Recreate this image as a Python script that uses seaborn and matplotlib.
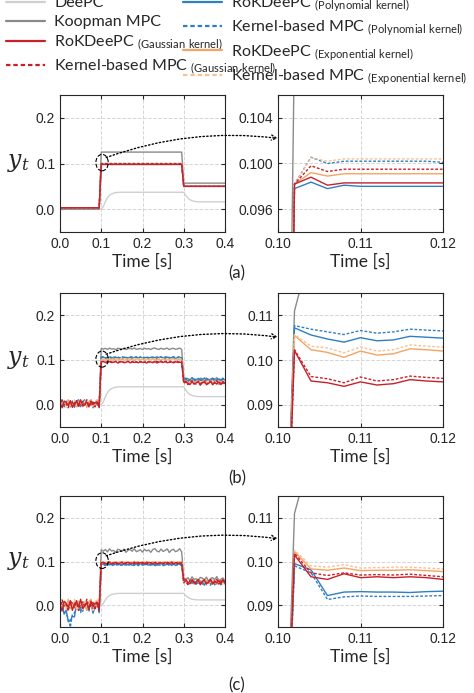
import numpy as np
import pandas as pd
import matplotlib
matplotlib.use("Agg")
import matplotlib.pyplot as plt
import seaborn as sns
from matplotlib.patches import Ellipse, ConnectionPatch
from matplotlib.lines import Line2D

sns.set_style("ticks")
plt.rcParams['font.family'] = ['Lato', 'DejaVu Sans']
plt.rcParams['mathtext.fontset'] = 'custom'
plt.rcParams['mathtext.rm'] = 'Lato'
plt.rcParams['mathtext.it'] = 'DejaVu Serif:italic'

# ---------------- data ----------------
series_names = ["DeePC", "Koopman MPC", "RoKDeePC_G", "KMPC_G", "RoKDeePC_P", "KMPC_P", "RoKDeePC_E", "KMPC_E"]
legend_labels = ["DeePC", "Koopman MPC",
                 "RoKDeePC $_{\\mathrm{(Gaussian\\ kernel)}}$",
                 "Kernel-based MPC $_{\\mathrm{(Gaussian\\ kernel)}}$",
                 "RoKDeePC $_{\\mathrm{(Polynomial\\ kernel)}}$",
                 "Kernel-based MPC $_{\\mathrm{(Polynomial\\ kernel)}}$",
                 "RoKDeePC $_{\\mathrm{(Exponential\\ kernel)}}$",
                 "Kernel-based MPC $_{\\mathrm{(Exponential\\ kernel)}}$"]
colors = ["#cfcfcf", "#8a8a8a", "#c8202a", "#c8202a", "#2f7ec2", "#2f7ec2", "#f4a462", "#f7c396"]
dash = (0, (2.0, 1.3))
styles = ["-", "-", "-", dash, "-", dash, "-", dash]

t_left = np.round(np.arange(0, 0.4001, 0.005), 4)
levels = {
    "a": {"DeePC": (0.0, 0.037, 0.016), "Koopman MPC": (0.0, 0.125, 0.057),
          "RoKDeePC_G": (0.003, 0.098, 0.050), "KMPC_G": (0.003, 0.0995, 0.050),
          "RoKDeePC_P": (0.003, 0.098, 0.050), "KMPC_P": (0.003, 0.100, 0.050),
          "RoKDeePC_E": (0.003, 0.099, 0.050), "KMPC_E": (0.003, 0.100, 0.050)},
    "b": {"DeePC": (0.0, 0.040, 0.018), "Koopman MPC": (0.0, 0.125, 0.057),
          "RoKDeePC_G": (0.002, 0.095, 0.048), "KMPC_G": (0.002, 0.096, 0.049),
          "RoKDeePC_P": (0.002, 0.105, 0.055), "KMPC_P": (0.002, 0.106, 0.056),
          "RoKDeePC_E": (0.002, 0.101, 0.050), "KMPC_E": (0.002, 0.102, 0.051)},
    "c": {"DeePC": (0.0, 0.027, 0.012), "Koopman MPC": (0.0, 0.125, 0.060),
          "RoKDeePC_G": (0.0, 0.096, 0.053), "KMPC_G": (0.0, 0.097, 0.053),
          "RoKDeePC_P": (-0.005, 0.093, 0.052), "KMPC_P": (-0.005, 0.092, 0.052),
          "RoKDeePC_E": (0.0, 0.098, 0.054), "KMPC_E": (0.0, 0.0985, 0.054)},
}
noise_amp = {
    "a": {"rok": (0.0, 0.0, 0.0), "koop": (0.0, 0.0, 0.0)},
    "b": {"rok": (0.010, 0.002, 0.005), "koop": (0.0, 0.002, 0.004)},
    "c": {"rok": (0.015, 0.002, 0.007), "koop": (0.0, 0.005, 0.006)},
}
noise = [0.3, -0.8, 0.5, 0.9, -0.2, -0.6, 0.7, -0.4, 0.1, 0.8, -0.9, 0.2, 0.6, -0.5, -0.1, 0.9,
         -0.7, 0.4, -0.3, 0.5, -0.6, 0.8, -0.2, 0.1, -0.9, 0.6, 0.3, -0.4, 0.7, -0.8, 0.2, 0.5,
         -0.3, 0.9, -0.5, -0.1, 0.4, -0.7, 0.6, -0.2]
dip_c = [0, 0, -0.005, -0.015, -0.03, -0.035, -0.025, -0.01, 0, 0]
deepc_rise = [0.0, 0.15, 0.45, 0.68, 0.82, 0.90, 0.95, 0.98, 0.99]
deepc_fall = [0.0, 0.35, 0.6, 0.78, 0.88, 0.94, 0.97, 0.99]

t_right = [0.100, 0.102, 0.104, 0.106, 0.108, 0.110, 0.112, 0.114, 0.116, 0.118, 0.120]
koop_right = [0.0, 0.111, 0.125, 0.125, 0.125, 0.125, 0.125, 0.125, 0.125, 0.125, 0.125]
right = {
    "a": {"RoKDeePC_P": [0.0, 0.0978, 0.09837, 0.0978, 0.0981, 0.0980, 0.0980, 0.0980, 0.0980, 0.0980, 0.0980],
          "RoKDeePC_G": [0.0, 0.0982, 0.0988, 0.0981, 0.0983, 0.0983, 0.0983, 0.0983, 0.0983, 0.0983, 0.0983],
          "RoKDeePC_E": [0.0, 0.0982, 0.0992, 0.0989, 0.0991, 0.0991, 0.0991, 0.0991, 0.0991, 0.0991, 0.0991],
          "KMPC_G": [0.0, 0.0982, 0.0998, 0.0993, 0.0995, 0.0995, 0.0995, 0.0995, 0.0995, 0.0995, 0.0995],
          "KMPC_P": [0.0, 0.0982, 0.10055, 0.1000, 0.1002, 0.1002, 0.1002, 0.1002, 0.1002, 0.1002, 0.1001],
          "KMPC_E": [0.0, 0.0982, 0.1005, 0.1002, 0.1004, 0.1004, 0.1004, 0.1004, 0.1004, 0.1004, 0.1004]},
    "b": {"KMPC_P": [0.0, 0.1077, 0.1069, 0.1063, 0.1057, 0.1066, 0.1060, 0.1063, 0.1069, 0.1067, 0.1065],
          "RoKDeePC_P": [0.0, 0.1072, 0.1056, 0.1047, 0.1040, 0.1050, 0.1043, 0.1045, 0.1053, 0.1051, 0.1049],
          "KMPC_E": [0.0, 0.1057, 0.1031, 0.1027, 0.1016, 0.1029, 0.1020, 0.1023, 0.1034, 0.1031, 0.1029],
          "RoKDeePC_E": [0.0, 0.1055, 0.1023, 0.1017, 0.1006, 0.1020, 0.1011, 0.1014, 0.1025, 0.1023, 0.1020],
          "KMPC_G": [0.0, 0.1023, 0.0963, 0.0958, 0.0949, 0.0962, 0.0953, 0.0956, 0.0964, 0.0961, 0.0959],
          "RoKDeePC_G": [0.0, 0.1021, 0.0953, 0.0949, 0.0941, 0.0951, 0.0944, 0.0947, 0.0956, 0.0953, 0.0951]},
    "c": {"KMPC_E": [0.0, 0.1026, 0.0990, 0.0987, 0.0993, 0.0985, 0.0986, 0.0987, 0.0987, 0.0985, 0.0983],
          "RoKDeePC_E": [0.0, 0.1023, 0.0983, 0.0980, 0.0985, 0.0979, 0.0980, 0.0980, 0.0981, 0.0979, 0.0977],
          "KMPC_G": [0.0, 0.1019, 0.0974, 0.0968, 0.0974, 0.0969, 0.0970, 0.0969, 0.0971, 0.0968, 0.0965],
          "RoKDeePC_G": [0.0, 0.1015, 0.0965, 0.0959, 0.0972, 0.0963, 0.0965, 0.0963, 0.0965, 0.0963, 0.0959],
          "RoKDeePC_P": [0.0, 0.0995, 0.0981, 0.0922, 0.0930, 0.0931, 0.0930, 0.0930, 0.0929, 0.0931, 0.0932],
          "KMPC_P": [0.0, 0.0990, 0.0974, 0.0913, 0.0919, 0.0921, 0.0920, 0.0920, 0.0920, 0.0921, 0.0922]},
}
right_ylim = {"a": (0.094, 0.106), "b": (0.085, 0.115), "c": (0.085, 0.115)}
right_yticks = {"a": [0.096, 0.100, 0.104], "b": [0.09, 0.10, 0.11], "c": [0.09, 0.10, 0.11]}
right_fmt = {"a": "%.3f", "b": "%.2f", "c": "%.2f"}
arrow_end = {"a": 0.1022, "b": 0.1051, "c": 0.1052}
panel_tags = ["a", "b", "c"]

n = len(t_left)
pre = t_left < 0.1 - 1e-9
post = t_left >= 0.3 - 1e-9
mid = ~pre & ~post

def left_series(p, name, k):
    lv = levels[p][name]
    y = np.where(pre, lv[0], np.where(mid, lv[1], lv[2])).astype(float)
    if name == "DeePC":
        im = np.where(mid)[0]; ip = np.where(post)[0]
        for j, i in enumerate(im):
            f = deepc_rise[j] if j < len(deepc_rise) else 1.0
            y[i] = lv[0] + (lv[1] - lv[0]) * f
        for j, i in enumerate(ip):
            f = deepc_fall[j] if j < len(deepc_fall) else 1.0
            y[i] = lv[1] + (lv[2] - lv[1]) * f
        return y
    amps = noise_amp[p]["koop" if name == "Koopman MPC" else "rok"]
    nz = np.roll(np.resize(np.array(noise), n), 3 * k)
    amp = np.where(pre, amps[0], np.where(mid, amps[1], amps[2]))
    y = y + amp * nz
    if p == "c" and name in ("RoKDeePC_P", "KMPC_P"):
        y[:len(dip_c)] += np.array(dip_c)
    return y

W, H = 474, 693
fig = plt.figure(figsize=(W / 100, H / 100), dpi=100)
rows = [(95, 232), (293, 427), (496, 627)]
tag_y = [273, 478, 685]

def frac(x0, x1, y0, y1):
    return [x0 / W, 1 - y1 / H, (x1 - x0) / W, (y1 - y0) / H]

def style_ax(ax):
    ax.grid(True, linestyle="--", color="#d5d5d5", linewidth=0.7)
    ax.tick_params(direction="in", top=True, right=True, labelsize=10, length=3)
    for lab in ax.get_xticklabels() + ax.get_yticklabels():
        lab.set_family("Liberation Sans")
    for s in ax.spines.values():
        s.set_linewidth(0.8)

for r, p in enumerate(panel_tags):
    y0, y1 = rows[r]
    axl = fig.add_axes(frac(60, 225, y0, y1))
    axr = fig.add_axes(frac(278, 443, y0, y1))
    order = ["DeePC", "Koopman MPC", "RoKDeePC_P", "KMPC_P", "RoKDeePC_E", "KMPC_E", "RoKDeePC_G", "KMPC_G"]
    for k, name in enumerate(order):
        i = series_names.index(name)
        df = pd.DataFrame({"t": t_left, "y": left_series(p, name, k)})
        sns.lineplot(data=df, x="t", y="y", ax=axl, color=colors[i], linestyle=styles[i],
                     linewidth=1.0, estimator=None, sort=False)
    dk = pd.DataFrame({"t": t_right, "y": koop_right})
    sns.lineplot(data=dk, x="t", y="y", ax=axr, color=colors[1], linewidth=1.0, estimator=None)
    for name in ["RoKDeePC_P", "KMPC_P", "RoKDeePC_E", "KMPC_E", "RoKDeePC_G", "KMPC_G"]:
        i = series_names.index(name)
        df = pd.DataFrame({"t": t_right, "y": right[p][name]})
        sns.lineplot(data=df, x="t", y="y", ax=axr, color=colors[i], linestyle=styles[i],
                     linewidth=1.0, estimator=None)
    axl.set_xlim(0, 0.4); axl.set_ylim(-0.05, 0.25)
    axl.set_xticks([0, 0.1, 0.2, 0.3, 0.4]); axl.set_yticks([0.0, 0.1, 0.2])
    axl.set_xticklabels(["0.0", "0.1", "0.2", "0.3", "0.4"])
    axl.set_yticklabels(["0.0", "0.1", "0.2"])
    axr.set_xlim(0.10, 0.12); axr.set_ylim(*right_ylim[p])
    axr.set_xticks([0.10, 0.11, 0.12]); axr.set_xticklabels(["0.10", "0.11", "0.12"])
    axr.set_yticks(right_yticks[p]); axr.set_yticklabels([right_fmt[p] % v for v in right_yticks[p]])
    for ax in (axl, axr):
        style_ax(ax)
        ax.set_xlabel("Time [s]", fontsize=12.5, labelpad=2)
        ax.set_ylabel("")
    axl.text(-0.25, 0.5, "$y_t$", transform=axl.transAxes, fontsize=17, va="center", ha="center")
    axl.add_patch(Ellipse((0.102, 0.102), 0.03, 0.036, fill=False, linestyle="--",
                          edgecolor="black", linewidth=0.8, zorder=5))
    con = ConnectionPatch(xyA=(0.112, 0.113), coordsA=axl.transData,
                          xyB=(0.10, arrow_end[p]), coordsB=axr.transData,
                          arrowstyle="->", linestyle=":", color="black", linewidth=1.0,
                          connectionstyle="arc3,rad=-0.12", mutation_scale=9)
    fig.add_artist(con)
    fig.text(237 / W, 1 - tag_y[r] / H, "(%s)" % p, ha="center", va="center", fontsize=12)

handles = [Line2D([], [], color=colors[i], linestyle=styles[i], linewidth=1.6) for i in range(8)]
fig.legend(handles, legend_labels, loc="lower left", bbox_to_anchor=(0.0, 0.865, 1.0, 0.135),
           mode="expand", ncol=2, frameon=False, fontsize=11.5, handlelength=2.4,
           labelspacing=0.3, borderaxespad=0.0, handletextpad=0.6)
fig.savefig("out.png", dpi=100)
